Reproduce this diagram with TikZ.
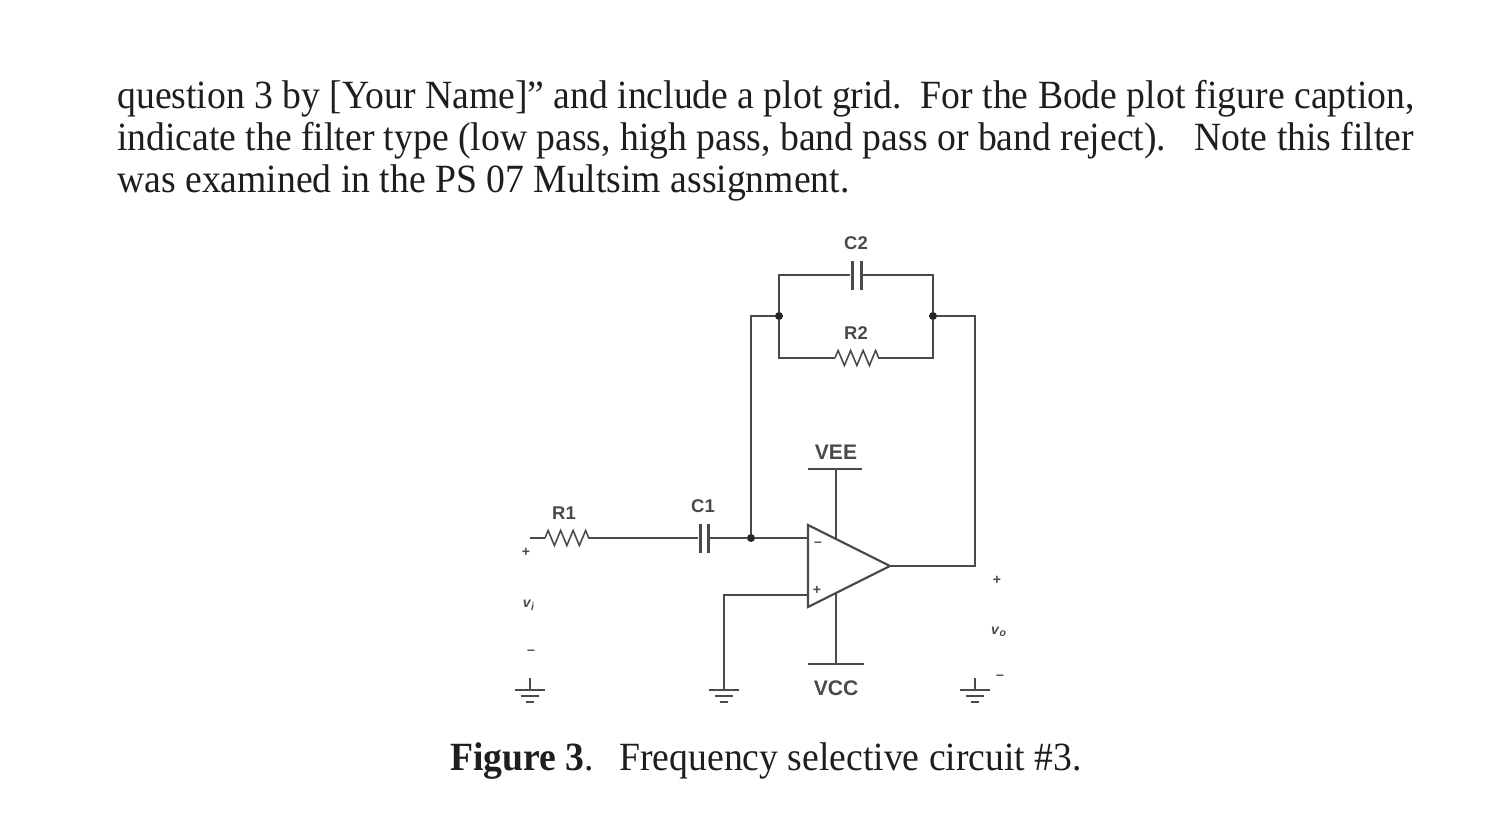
\documentclass[tikz,border=0pt]{standalone}
\usepackage{fontspec}
\setmainfont[FakeStretch=0.94]{Liberation Serif}
\setsansfont{Liberation Sans}
\usetikzlibrary{decorations.pathmorphing}
\definecolor{wirecol}{HTML}{4A4A4A}
\definecolor{inkcol}{HTML}{1E1E1E}
\tikzset{
	wire/.style={line width=1.2pt, wirecol},
	thinwire/.style={line width=0.8pt, wirecol},
	junction/.style={circle, fill=black!85, inner sep=0pt, minimum size=0.16cm},
	plate/.style={rectangle, fill=wirecol, inner sep=0pt, minimum width=0.06cm, minimum height=0.58cm},
	resistor/.style={line width=0.9pt, wirecol, decorate, decoration={zigzag, segment length=0.25cm, amplitude=0.15cm}},
	partlabel/.style={font=\sffamily\bfseries\fontsize{10.5}{12}\selectfont, text=wirecol, inner sep=0pt},
	supplylabel/.style={font=\sffamily\bfseries\fontsize{12}{14}\selectfont, text=wirecol, inner sep=0pt},
	tinylabel/.style={font=\sffamily\bfseries\fontsize{8}{9}\selectfont, text=wirecol, inner sep=0pt},
	bodyline/.style={anchor=base west, inner sep=0pt, text=inkcol, font=\fontsize{22.8}{28}\selectfont},
}
\begin{document}
\begin{tikzpicture}[x=0.02cm, y=-0.02cm]
	\useasboundingbox (0,0) rectangle (1488,818);

	% text above and below
	\node [bodyline] (lineone) at (117,108) {question 3 by [Your Name]” and include a plot grid.\ \ For the Bode plot figure caption,};
	\node [bodyline] (linetwo) at (117,150) {indicate the filter type (low pass, high pass, band pass or band reject).\ \ \ Note this filter};
	\node [bodyline] (linethree) at (117,192) {was examined in the PS 07 Multsim assignment.};
	\node [bodyline] (caption) at (450,770) {\textbf{Figure 3}.\ \ \,Frequency selective circuit \#3.};

	% points of the circuit
	\coordinate (vin) at (530,538);
	\coordinate (r1a) at (545,538);
	\coordinate (r1b) at (590,538);
	\coordinate (fbcorner) at (751,316);
	\coordinate (tl) at (779,275);
	\coordinate (tr) at (933,275);
	\coordinate (bl) at (779,358);
	\coordinate (br) at (933,358);
	\coordinate (r2a) at (835,358);
	\coordinate (r2b) at (881,358);
	\coordinate (outcorner) at (975,316);
	\coordinate (outbend) at (975,566);
	\coordinate (ampa) at (808,525);
	\coordinate (ampb) at (808,607);
	\coordinate (ampc) at (890,566);
	\coordinate (ninv) at (808,538);
	\coordinate (pinv) at (808,595);
	\coordinate (pbend) at (724,595);
	\coordinate (vee) at (836,469);
	\coordinate (veetop) at (836,539);
	\coordinate (vcc) at (836,664);
	\coordinate (vccbot) at (836,593);

	\node [junction] (jin) at (751,538) {};
	\node [junction] (jl) at (779,316) {};
	\node [junction] (jr) at (933,316) {};

	\node [plate] (c1a) at (700,538) {};
	\node [plate] (c1b) at (708,538) {};
	\node [plate] (c2a) at (852,275) {};
	\node [plate] (c2b) at (861,275) {};

	% input branch
	\draw [wire] (vin) -- (r1a);
	\draw [resistor] (r1a) -- (r1b);
	\draw [wire] (r1b) -- (c1a);
	\draw [wire] (c1b) -- (jin) -- (ninv);

	% feedback
	\draw [wire] (jin) -- (fbcorner) -- (jl);
	\draw [wire] (jl) -- (tl) -- (c2a);
	\draw [wire] (c2b) -- (tr) -- (jr);
	\draw [wire] (jl) -- (bl) -- (r2a);
	\draw [resistor] (r2a) -- (r2b);
	\draw [wire] (r2b) -- (br) -- (jr);
	\draw [wire] (jr) -- (outcorner) -- (outbend) -- (ampc);

	% op amp
	\draw [wire, line join=miter] (ampa) -- (ampb) -- (ampc) -- cycle;
	\draw [wire] (vee) -- (veetop);
	\draw [wire] (vccbot) -- (vcc);
	\draw [thinwire] (808,469) -- (vee) -- (862,469);
	\draw [thinwire] (808,664) -- (vcc) -- (864,664);
	\draw [wire] (pinv) -- (pbend) -- (724,690);

	% grounds
	\foreach \gx/\gtop in {530/678, 724/690, 975/678} {
		\draw [wire] (\gx,\gtop) -- (\gx,690);
		\draw [wire] (\gx-15,690) -- (\gx+15,690);
		\draw [wire] (\gx-9,696) -- (\gx+9,696);
		\draw [wire] (\gx-4,702) -- (\gx+4,702);
	}

	% labels
	\node [partlabel] (r1label) at (564,513) {R1};
	\node [partlabel] (c1label) at (703,506) {C1};
	\node [partlabel] (c2label) at (856,243) {C2};
	\node [partlabel] (r2label) at (856,333) {R2};
	\node [supplylabel] (veelabel) at (836,452) {VEE};
	\node [supplylabel] (vcclabel) at (836,688) {VCC};
	\node [tinylabel] (ampminus) at (818,544) {–};
	\node [tinylabel] (ampplus) at (817,590) {+};
	\node [tinylabel] (viplus) at (526,552) {+};
	\node [tinylabel] (vilabel) at (529,605) {\textit{v}\textsubscript{\textit{i}}};
	\node [tinylabel] (viminus) at (531,652) {–};
	\node [tinylabel] (voplus) at (997,580) {+};
	\node [tinylabel] (volabel) at (999,632) {\textit{v}\textsubscript{\textit{o}}};
	\node [tinylabel] (vominus) at (1000,677) {–};
\end{tikzpicture}
\end{document}
